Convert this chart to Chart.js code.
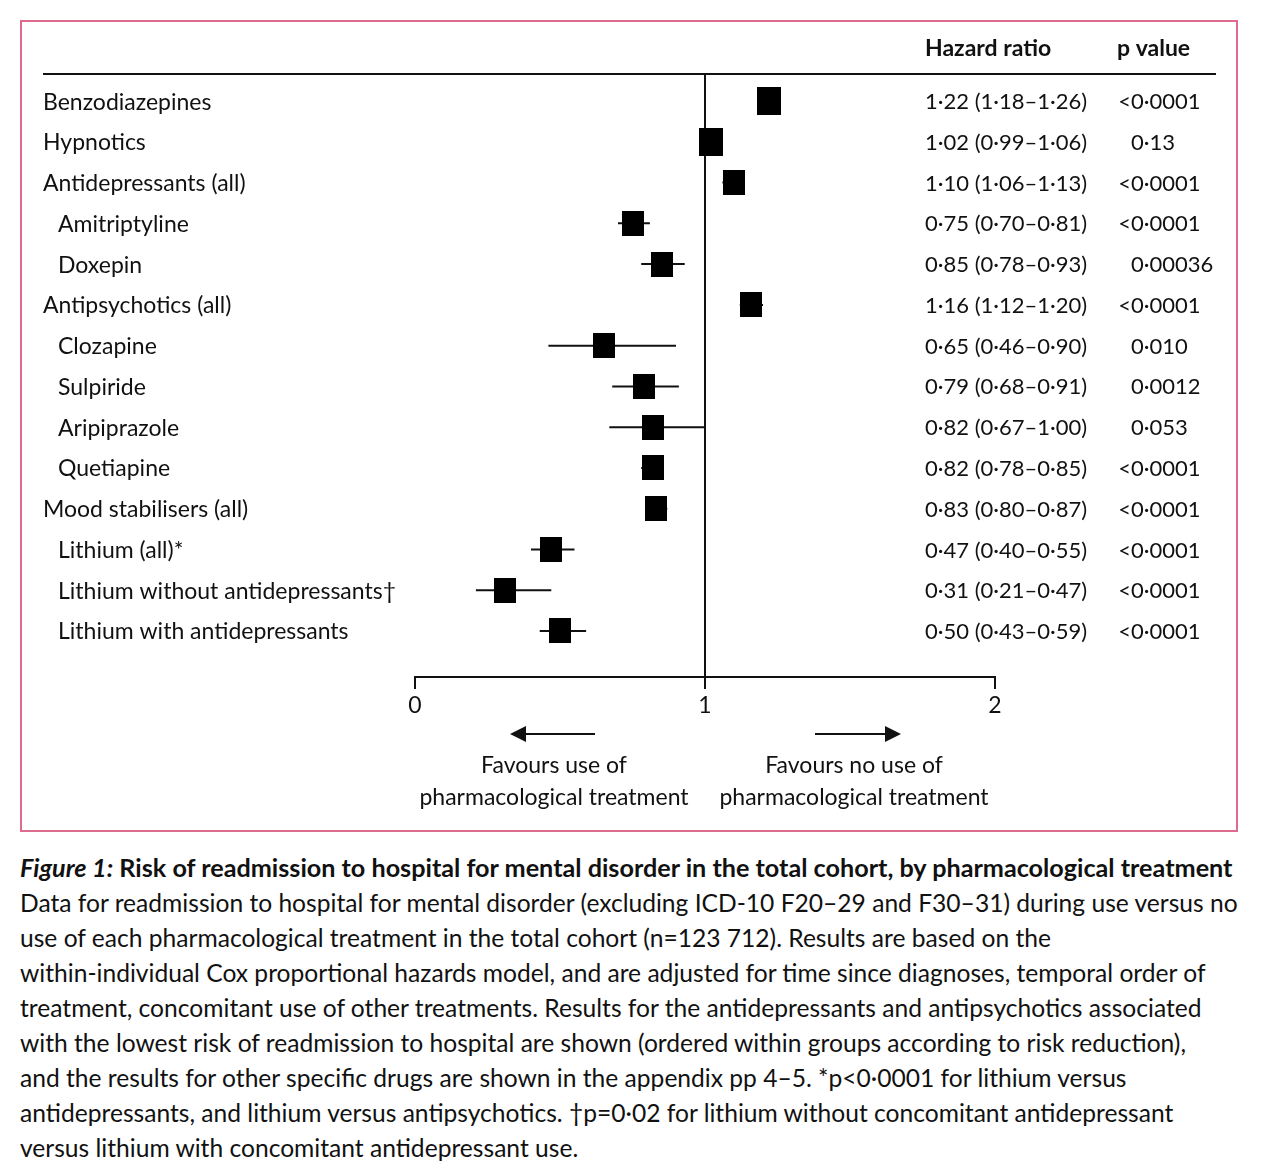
<!DOCTYPE html>
<html>
<head>
<meta charset="utf-8">
<script src="https://cdn.jsdelivr.net/npm/chart.js@4.4.0/dist/chart.umd.min.js"></script>
<style>
  body { margin: 0; background: #fff; font-family: Lato, sans-serif; color: #111; }
  #wrap { position: relative; width: 1265px; height: 1167px; }
  #frame { position: absolute; left: 20px; top: 20px; width: 1214px; height: 808px; border: 2px solid #dc6b8e; }
  #forest { position: absolute; left: 0; top: 0; }
  #caption { position: absolute; left: 20px; top: 850px; font-size: 24.6px; line-height: 35px; white-space: nowrap; }
  #caption b { font-size: 25.2px; }
</style>
</head>
<body>
<div id="wrap">
  <div id="frame"></div>
  <canvas id="forest" width="1265" height="840"></canvas>
  <div id="caption">
    <b><i>Figure 1:</i> Risk of readmission to hospital for mental disorder in the total cohort, by pharmacological treatment</b><br>
    Data for readmission to hospital for mental disorder (excluding ICD-10 F20–29 and F30–31) during use versus no<br>
    use of each pharmacological treatment in the total cohort (n=123 712). Results are based on the<br>
    within-individual Cox proportional hazards model, and are adjusted for time since diagnoses, temporal order of<br>
    treatment, concomitant use of other treatments. Results for the antidepressants and antipsychotics associated<br>
    with the lowest risk of readmission to hospital are shown (ordered within groups according to risk reduction),<br>
    and the results for other specific drugs are shown in the appendix pp 4–5. *p&lt;0·0001 for lithium versus<br>
    antidepressants, and lithium versus antipsychotics. †p=0·02 for lithium without concomitant antidepressant<br>
    versus lithium with concomitant antidepressant use.
  </div>
</div>
<script>
// rows, top to bottom
const labels = ['Benzodiazepines', 'Hypnotics', 'Antidepressants (all)', 'Amitriptyline', 'Doxepin',
  'Antipsychotics (all)', 'Clozapine', 'Sulpiride', 'Aripiprazole', 'Quetiapine',
  'Mood stabilisers (all)', 'Lithium (all)*', 'Lithium without antidepressants†', 'Lithium with antidepressants'];
const subgroup = [false, false, false, true, true, false, true, true, true, true, false, true, true, true];
const hr     = [1.22, 1.02, 1.10, 0.75, 0.85, 1.16, 0.65, 0.79, 0.82, 0.82, 0.83, 0.47, 0.31, 0.50];
const ciLow  = [1.18, 0.99, 1.06, 0.70, 0.78, 1.12, 0.46, 0.68, 0.67, 0.78, 0.80, 0.40, 0.21, 0.43];
const ciHigh = [1.26, 1.06, 1.13, 0.81, 0.93, 1.20, 0.90, 0.91, 1.00, 0.85, 0.87, 0.55, 0.47, 0.59];
const pValues = ['<0·0001', '0·13', '<0·0001', '<0·0001', '0·00036', '<0·0001', '0·010', '0·0012',
  '0·053', '<0·0001', '<0·0001', '<0·0001', '<0·0001', '<0·0001'];
const xTicks = [0, 1, 2];

// marker size per row (style only)
const bigBox = [true, true];

const fmt = v => v.toFixed(2).replace('.', '·');
const hrText = hr.map((v, i) => fmt(v) + ' (' + fmt(ciLow[i]) + '–' + fmt(ciHigh[i]) + ')');

function makeBox(w, h) {
  const c = document.createElement('canvas');
  c.width = w; c.height = h;
  const g = c.getContext('2d');
  g.fillStyle = '#000';
  g.fillRect(0, 0, w, h);
  return c;
}
const boxes = hr.map((v, i) => bigBox[i] ? makeBox(24, 28) : makeBox(22, 25));

// CI segments, broken by a gap point
const ciPoints = [];
hr.forEach((v, i) => {
  ciPoints.push({x: ciLow[i], y: i}, {x: ciHigh[i], y: i}, {x: ciHigh[i], y: null});
});

const forestText = {
  id: 'forestText',
  afterDraw(chart) {
    const {ctx, chartArea} = chart;
    const x = chart.scales.x, y = chart.scales.y;
    ctx.save();
    ctx.fillStyle = '#111';
    ctx.strokeStyle = '#111';
    ctx.textBaseline = 'middle';
    ctx.textAlign = 'left';

    ctx.font = 'bold 23px Lato';
    ctx.fillText('Hazard ratio', 925, 49);
    ctx.fillText('p value', 1117, 49);

    ctx.lineWidth = 2;
    ctx.beginPath();
    ctx.moveTo(43, chartArea.top - 1);
    ctx.lineTo(1216, chartArea.top - 1);
    ctx.stroke();

    labels.forEach((lab, i) => {
      const py = y.getPixelForValue(i) + 1;
      ctx.font = '23px Lato';
      ctx.fillText(lab, subgroup[i] ? 58 : 43, py);
      ctx.font = '22px Lato';
      ctx.fillText(hrText[i], 925, py);
      let p = pValues[i];
      if (p[0] === '<') {
        ctx.fillText(p, 1131 - ctx.measureText('<').width, py);
      } else {
        ctx.fillText(p, 1131, py);
      }
    });

    // direction arrows and labels
    const one = x.getPixelForValue(1);
    const ay = 734;
    ctx.lineWidth = 2;
    ctx.beginPath();
    ctx.moveTo(one - 110, ay); ctx.lineTo(one - 188, ay);
    ctx.moveTo(one + 110, ay); ctx.lineTo(one + 188, ay);
    ctx.stroke();
    ctx.beginPath();
    ctx.moveTo(one - 195, ay); ctx.lineTo(one - 179, ay - 8); ctx.lineTo(one - 179, ay + 8); ctx.closePath();
    ctx.moveTo(one + 196, ay); ctx.lineTo(one + 180, ay - 8); ctx.lineTo(one + 180, ay + 8); ctx.closePath();
    ctx.fill();

    ctx.font = '23px Lato';
    ctx.textAlign = 'center';
    ctx.fillText('Favours use of', one - 151, 766);
    ctx.fillText('pharmacological treatment', one - 151, 798);
    ctx.fillText('Favours no use of', one + 149, 766);
    ctx.fillText('pharmacological treatment', one + 149, 798);
    ctx.restore();
  }
};

function draw() {
  new Chart(document.getElementById('forest'), {
    type: 'scatter',
    data: {
      datasets: [
        {
          label: 'Hazard ratio',
          data: hr.map((v, i) => ({x: v, y: i})),
          pointStyle: boxes,
          pointRadius: 12,
          pointHoverRadius: 12
        },
        {
          label: '95% CI',
          data: ciPoints,
          showLine: true,
          spanGaps: false,
          borderColor: '#111',
          borderWidth: 2,
          pointRadius: 0
        }
      ]
    },
    options: {
      responsive: false,
      animation: false,
      devicePixelRatio: 1,
      layout: {padding: {left: 415, right: 270, top: 75, bottom: 123}},
      plugins: {legend: {display: false}, tooltip: {enabled: false}},
      scales: {
        x: {
          type: 'linear',
          min: 0,
          max: 2,
          afterBuildTicks: s => { s.ticks = xTicks.map(v => ({value: v})); },
          afterFit: s => { s.height = 40; },
          grid: {
            drawOnChartArea: true,
            color: c => (c.tick && c.tick.value === 1) ? '#111' : 'rgba(0,0,0,0)',
            lineWidth: 2,
            tickColor: '#111',
            tickLength: 12,
            tickWidth: 2
          },
          border: {display: true, color: '#111', width: 2},
          ticks: {color: '#111', font: {family: 'Lato', size: 23}, padding: 3}
        },
        y: {
          type: 'linear',
          display: false,
          reverse: true,
          min: -0.64,
          max: 14.13
        }
      }
    },
    plugins: [forestText]
  });
}

Promise.all([document.fonts.load('22px Lato'), document.fonts.load('bold 22px Lato')])
  .then(draw, draw);
</script>
</body>
</html>
